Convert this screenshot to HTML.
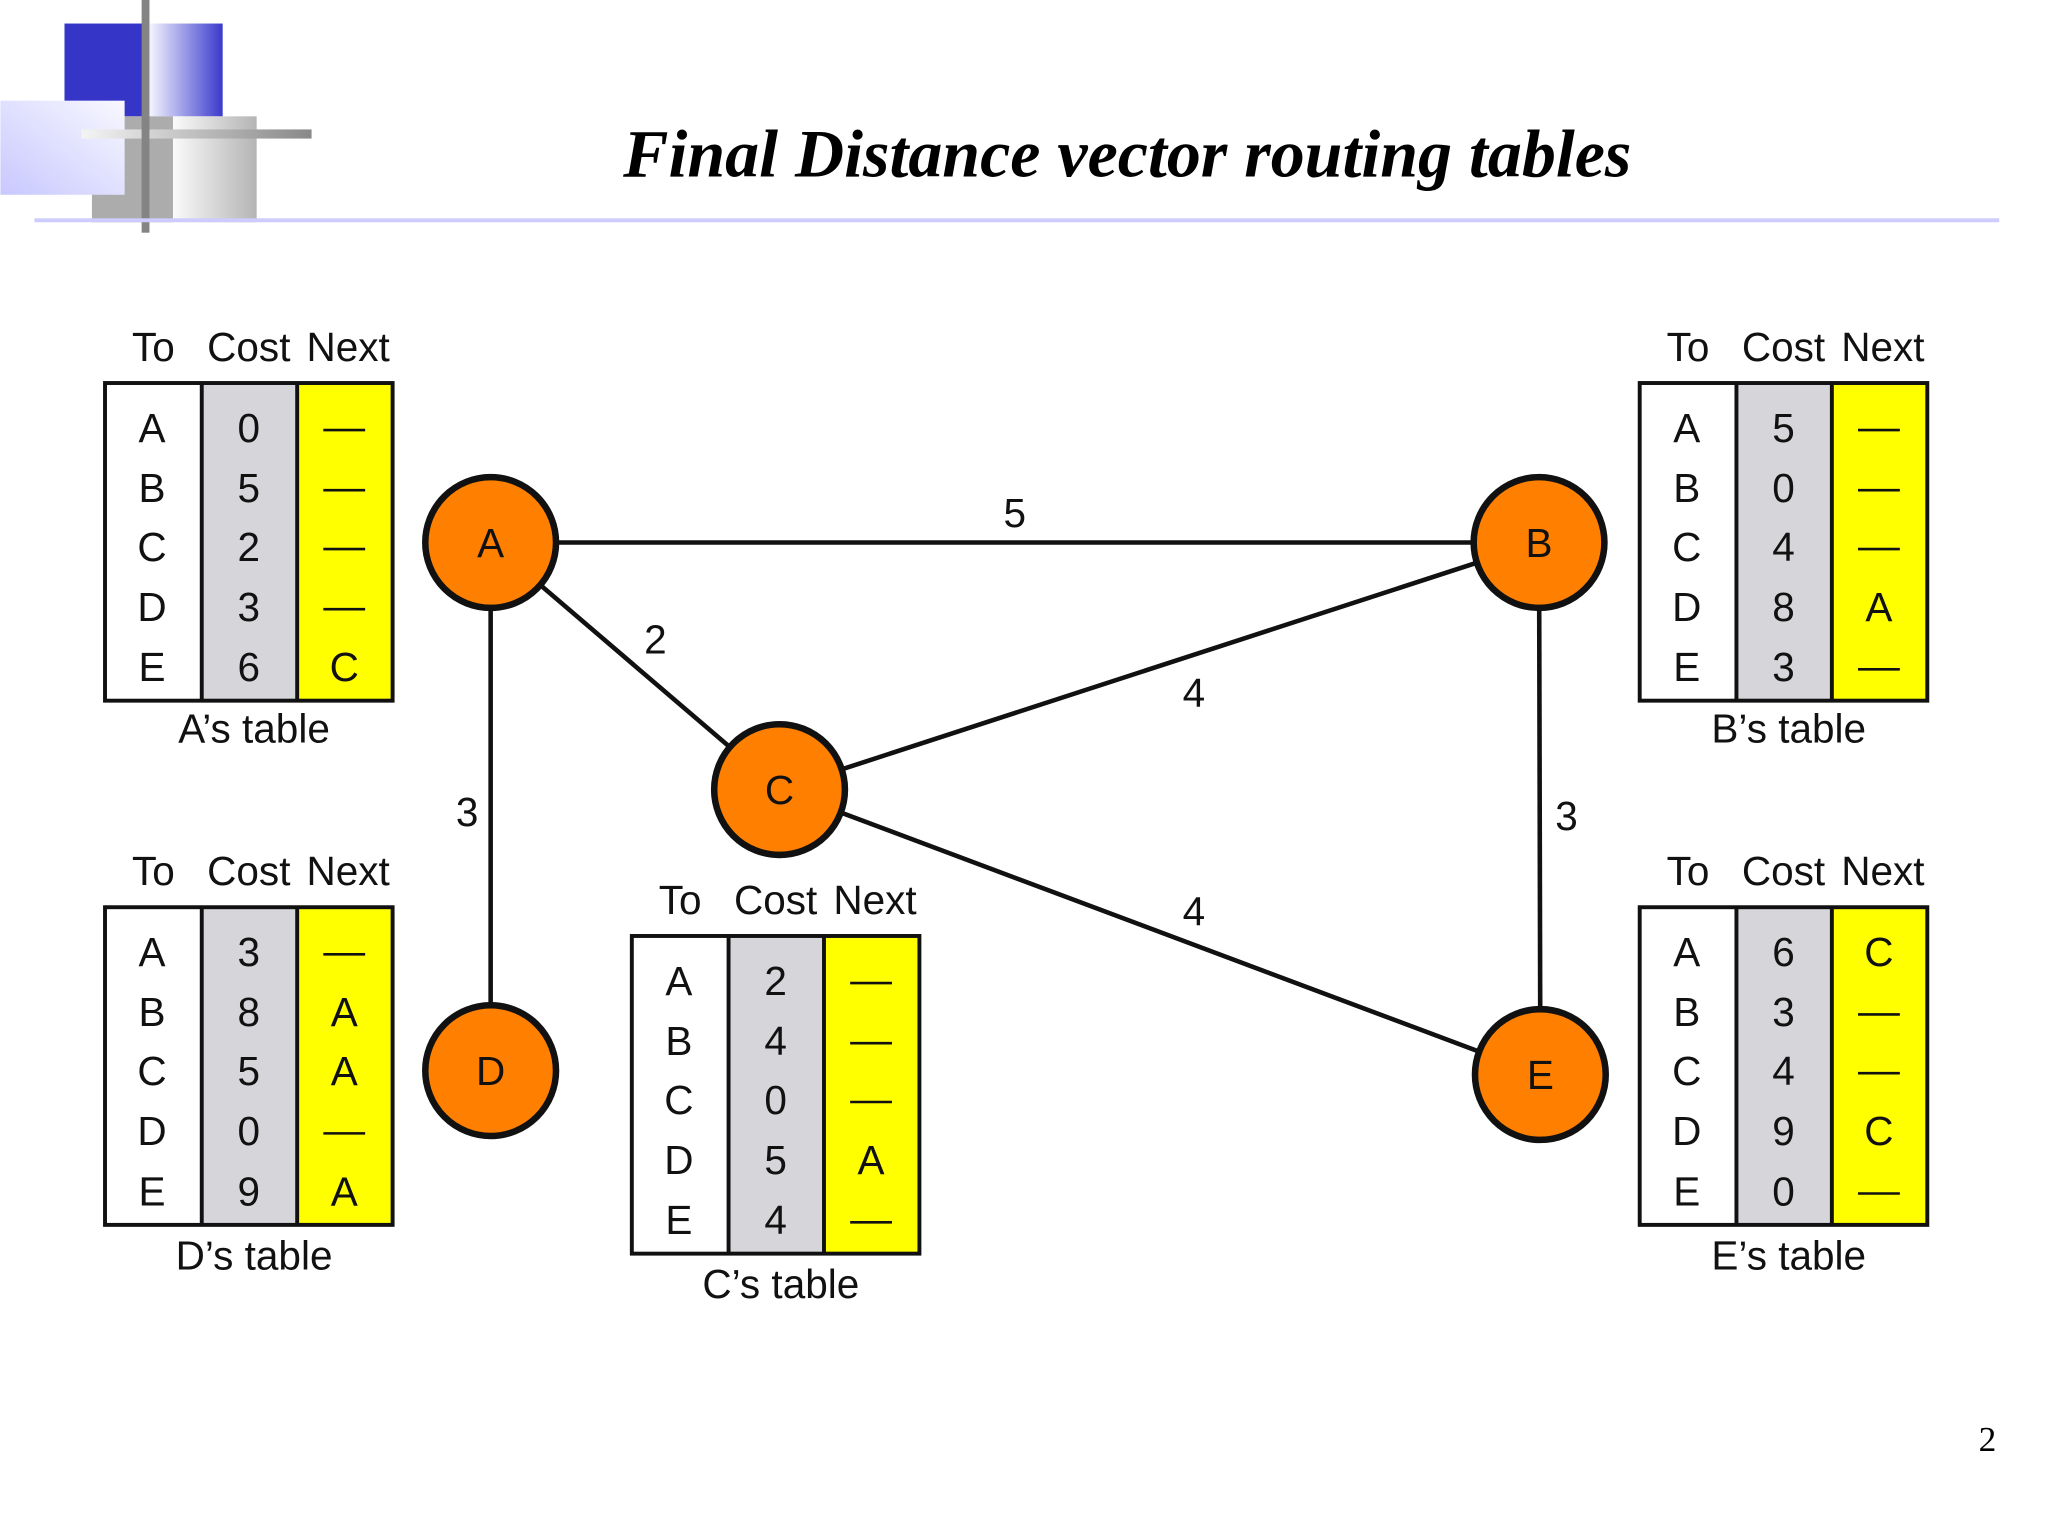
<!DOCTYPE html>
<html><head><meta charset="utf-8"><style>
html,body{margin:0;padding:0;background:#fff;}
svg{display:block}
.t{font-family:"Liberation Sans","DejaVu Sans",sans-serif;font-size:31px;fill:#111;text-anchor:middle}
</style></head><body>
<svg width="2048" height="1536" viewBox="0 0 1566 1175" xmlns="http://www.w3.org/2000/svg">
<defs>
<linearGradient id="g1" x1="0" x2="1" y1="0" y2="0"><stop offset="0" stop-color="#f4f4ff"/><stop offset="1" stop-color="#3a3acc"/></linearGradient>
<linearGradient id="g2" x1="0" x2="1" y1="1" y2="0"><stop offset="0" stop-color="#c8c8ff"/><stop offset="1" stop-color="#f8f8ff"/></linearGradient>
<linearGradient id="g3" x1="0" x2="1" y1="0" y2="0"><stop offset="0" stop-color="#fafafa"/><stop offset="1" stop-color="#b4b4b4"/></linearGradient>
<linearGradient id="g4" x1="0" x2="1" y1="0" y2="0"><stop offset="0" stop-color="#f4f4f4"/><stop offset="1" stop-color="#888"/></linearGradient>
<g id="tb">
<rect x="0" y="0" width="74" height="243" fill="#fff"/>
<rect x="74" y="0" width="73" height="243" fill="#d6d5d9"/>
<rect x="147" y="0" width="73" height="243" fill="#ffff00"/>
<rect x="0" y="0" width="220" height="243" fill="none" stroke="#111" stroke-width="3"/>
<line x1="74" y1="0" x2="74" y2="243" stroke="#111" stroke-width="3"/>
<line x1="147" y1="0" x2="147" y2="243" stroke="#111" stroke-width="3"/>
<text class="t" x="37" y="-17">To</text><text class="t" x="110" y="-17">Cost</text><text class="t" x="186" y="-17">Next</text>
<text class="t" x="36" y="45">A</text><text class="t" x="36" y="91">B</text><text class="t" x="36" y="136">C</text><text class="t" x="36" y="182">D</text><text class="t" x="36" y="228">E</text>
</g>
</defs>
<!-- logo -->
<rect x="49" y="18" width="62" height="71" fill="#3535c8"/>
<rect x="114" y="18" width="56" height="71" fill="url(#g1)"/>
<rect x="70" y="89" width="62" height="81" fill="#acacac"/>
<rect x="132" y="89" width="64" height="81" fill="url(#g3)"/>
<rect x="0" y="77" width="95" height="72" fill="url(#g2)"/>
<rect x="62" y="99" width="176" height="7" fill="url(#g4)"/>
<rect x="108" y="0" width="6" height="178" fill="#848484"/>
<rect x="26" y="167" width="1503" height="3" fill="#ccccff"/>
<text x="862" y="135" text-anchor="middle" font-family="Liberation Serif,serif" font-weight="bold" font-style="italic" font-size="52" fill="#000">Final Distance vector routing tables</text>
<text x="1520" y="1110" text-anchor="middle" font-family="Liberation Serif,serif" font-size="27" fill="#000">2</text>
<!-- edges -->
<g stroke="#111" stroke-width="3.5">
<line x1="375" y1="415" x2="1177" y2="415"/>
<line x1="375" y1="415" x2="596" y2="604"/>
<line x1="375" y1="415" x2="375" y2="819"/>
<line x1="596" y1="604" x2="1177" y2="415"/>
<line x1="596" y1="604" x2="1178" y2="822"/>
<line x1="1177" y1="415" x2="1178" y2="822"/>
</g>
<text class="t" x="776" y="403">5</text><text class="t" x="501" y="500">2</text><text class="t" x="913" y="541">4</text>
<text class="t" x="357" y="632">3</text><text class="t" x="1198" y="635">3</text><text class="t" x="913" y="708">4</text>
<g fill="#ff8000" stroke="#111" stroke-width="5">
<circle cx="375" cy="415" r="50"/><circle cx="1177" cy="415" r="50"/><circle cx="596" cy="604" r="50"/>
<circle cx="375" cy="819" r="50"/><circle cx="1178" cy="822" r="50"/>
</g>
<text class="t" x="375" y="426">A</text><text class="t" x="1177" y="426">B</text><text class="t" x="596" y="615">C</text>
<text class="t" x="375" y="830">D</text><text class="t" x="1178" y="833">E</text>
<!-- tables -->
<g transform="translate(80,293)"><use href="#tb"/>
<text class="t" x="110" y="45">0</text><text class="t" x="110" y="91">5</text><text class="t" x="110" y="136">2</text><text class="t" x="110" y="182">3</text><text class="t" x="110" y="228">6</text>
<g stroke="#111" stroke-width="2"><line x1="167" y1="36" x2="199" y2="36"/><line x1="167" y1="82" x2="199" y2="82"/><line x1="167" y1="127" x2="199" y2="127"/><line x1="167" y1="173" x2="199" y2="173"/></g>
<text class="t" x="183" y="228">C</text>
<text class="t" x="114" y="275">A’s table</text></g>
<g transform="translate(1254,293)"><use href="#tb"/>
<text class="t" x="110" y="45">5</text><text class="t" x="110" y="91">0</text><text class="t" x="110" y="136">4</text><text class="t" x="110" y="182">8</text><text class="t" x="110" y="228">3</text>
<g stroke="#111" stroke-width="2"><line x1="167" y1="36" x2="199" y2="36"/><line x1="167" y1="82" x2="199" y2="82"/><line x1="167" y1="127" x2="199" y2="127"/><line x1="167" y1="219" x2="199" y2="219"/></g>
<text class="t" x="183" y="182">A</text>
<text class="t" x="114" y="275">B’s table</text></g>
<g transform="translate(483,716)"><use href="#tb"/>
<text class="t" x="110" y="45">2</text><text class="t" x="110" y="91">4</text><text class="t" x="110" y="136">0</text><text class="t" x="110" y="182">5</text><text class="t" x="110" y="228">4</text>
<g stroke="#111" stroke-width="2"><line x1="167" y1="36" x2="199" y2="36"/><line x1="167" y1="82" x2="199" y2="82"/><line x1="167" y1="127" x2="199" y2="127"/><line x1="167" y1="219" x2="199" y2="219"/></g>
<text class="t" x="183" y="182">A</text>
<text class="t" x="114" y="277">C’s table</text></g>
<g transform="translate(80,694)"><use href="#tb"/>
<text class="t" x="110" y="45">3</text><text class="t" x="110" y="91">8</text><text class="t" x="110" y="136">5</text><text class="t" x="110" y="182">0</text><text class="t" x="110" y="228">9</text>
<g stroke="#111" stroke-width="2"><line x1="167" y1="36" x2="199" y2="36"/><line x1="167" y1="173" x2="199" y2="173"/></g>
<text class="t" x="183" y="91">A</text><text class="t" x="183" y="136">A</text><text class="t" x="183" y="228">A</text>
<text class="t" x="114" y="277">D’s table</text></g>
<g transform="translate(1254,694)"><use href="#tb"/>
<text class="t" x="110" y="45">6</text><text class="t" x="110" y="91">3</text><text class="t" x="110" y="136">4</text><text class="t" x="110" y="182">9</text><text class="t" x="110" y="228">0</text>
<g stroke="#111" stroke-width="2"><line x1="167" y1="82" x2="199" y2="82"/><line x1="167" y1="127" x2="199" y2="127"/><line x1="167" y1="219" x2="199" y2="219"/></g>
<text class="t" x="183" y="45">C</text><text class="t" x="183" y="182">C</text>
<text class="t" x="114" y="277">E’s table</text></g>
</svg>
</body></html>
